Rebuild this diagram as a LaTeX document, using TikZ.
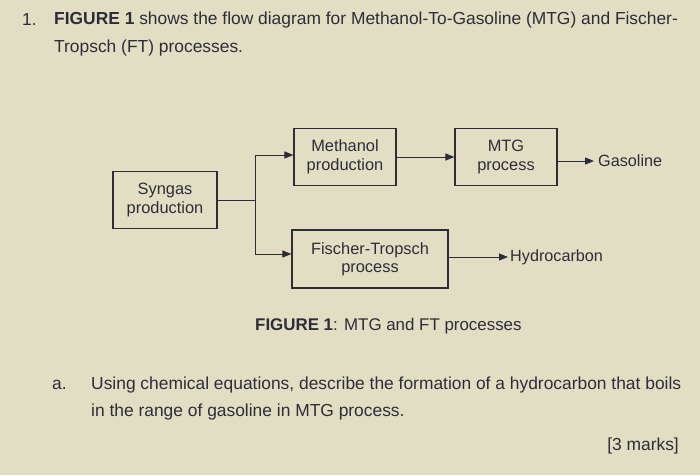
\documentclass[tikz,border=0pt]{standalone}
\usepackage{fontspec}
\setmainfont{Liberation Sans}
\usetikzlibrary{arrows.meta}
\definecolor{ink}{RGB}{45,45,55}
\definecolor{paper}{RGB}{226,222,196}
\begin{document}
\begin{tikzpicture}[x=1pt,y=-1pt,
  every node/.style={text=ink,inner sep=0pt},
  procbox/.style={draw=ink,line width=1.1pt,minimum width=#1,minimum height=57pt,align=center,font=\fontsize{16.4}{18.5}\selectfont},
  flow/.style={draw=ink,line width=1pt,-{Triangle[length=9pt,width=7pt]}},
  plain/.style={draw=ink,line width=1pt},
  label/.style={anchor=west,font=\fontsize{16.2}{18}\selectfont},
  body/.style={anchor=west,font=\fontsize{17.4}{20}\selectfont}]
\useasboundingbox (0,0) rectangle (700,475);
\fill[paper] (0,0) rectangle (700,475);
% header
\node[body] (num) at (22,20) {1.};
\node[body] (t1) at (54,20) {\textbf{FIGURE 1} shows the flow diagram for Methanol-To-Gasoline (MTG) and Fischer-};
\node[body] (t2) at (54,48) {Tropsch (FT) processes.};
% boxes
\node[procbox=104pt] (syn) at (165,200) {Syngas\\production};
\node[procbox=102pt] (meth) at (345,157) {Methanol\\production};
\node[procbox=102pt] (mtg) at (506,157) {MTG\\process};
\node[procbox=156pt,minimum height=58pt] (ft) at (370,259) {Fischer-Tropsch\\process};
\node[label] (gas) at (598,161) {Gasoline};
\node[label] (hc) at (510,257) {Hydrocarbon};
% connectors
\coordinate (br) at (255,200);
\draw[plain] (syn.east) -- (br);
\draw[flow] (br) |- (meth.west |- 0,155);
\draw[flow] (br) |- (ft.west |- 0,254);
\draw[flow] (meth.east) -- (mtg.west);
\draw[flow,shorten >=4pt] (mtg.east |- 0,161) -- (gas.west);
\draw[flow,shorten >=2pt] (ft.east |- 0,257) -- (hc.west);
% caption and question
\node[body,font=\fontsize{16.9}{20}\selectfont] (cap) at (255,326) {\textbf{FIGURE 1}: MTG and FT processes};
\node[body] (qa) at (52,385) {a.};
\node[body] (q1) at (91,385) {Using chemical equations, describe the formation of a hydrocarbon that boils};
\node[body] (q2) at (91,412) {in the range of gasoline in MTG process.};
\node[body,anchor=east] (marks) at (679,446) {[3 marks]};
\end{tikzpicture}
\end{document}
